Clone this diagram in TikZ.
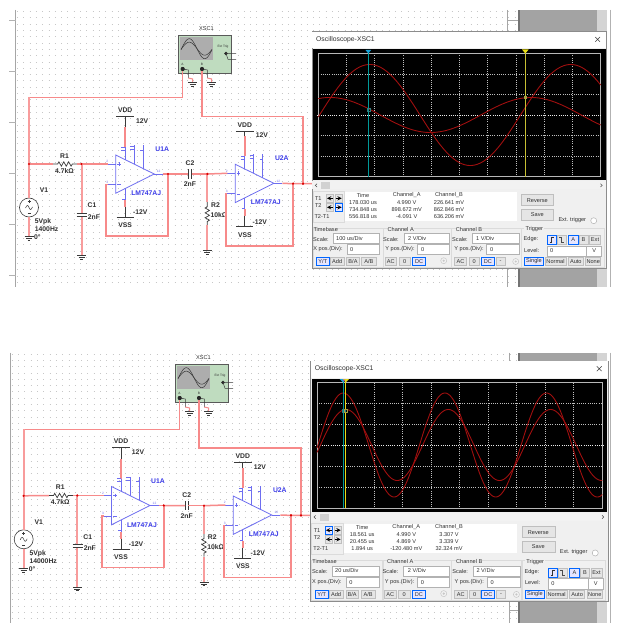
\documentclass[tikz,border=0pt]{standalone}
\usepackage{fontspec}
\setmainfont{Liberation Sans}
\definecolor{wirered}{HTML}{F78A8A}
\definecolor{opblue}{HTML}{6E6EF0}
\definecolor{labblue}{HTML}{3C3CE8}
\definecolor{compgray}{HTML}{3A3A3A}
\definecolor{txtgray}{HTML}{303030}
\definecolor{winbg}{HTML}{F0F0F0}
\definecolor{trace}{HTML}{A00F0F}
\newcounter{nn}
\tikzset{
 wire/.style={draw=wirered,line width=1.5pt},
 widewire/.style={draw=wirered!85!white,line width=2pt},
 comp/.style={draw=compgray,line width=.7pt},
 opline/.style={draw=opblue,line width=.8pt},
 lab/.style={font=\fontsize{6.8}{8}\selectfont\bfseries,text=txtgray,inner sep=0pt},
 ulab/.style={font=\fontsize{6.8}{8}\selectfont\bfseries,text=labblue,inner sep=0pt},
 tiny/.style={font=\fontsize{3.2}{4}\selectfont,text=txtgray,inner sep=0pt},
 tinyb/.style={font=\fontsize{3.2}{4}\selectfont,text=opblue,inner sep=0pt},
 junc/.style={circle,fill=red!85!black,inner sep=0pt,minimum size=2.4pt},
 ptx/.style={font=\fontsize{5.6}{6.5}\selectfont,text=txtgray,inner sep=0pt},
 btnoff/.style={draw=black!25,fill=black!10,line width=.5pt},
 btnon/.style={draw=blue!60!cyan,fill=blue!10,line width=.7pt},
 fieldbox/.style={draw=black!30,fill=white,line width=.5pt},
 grpline/.style={draw=black!14,line width=.6pt},
 griddot/.style={draw=black!25,line width=.7pt,dash pattern=on 1pt off 1.2pt},
 tracep/.style={draw=trace,line width=.9pt},
 dotrow/.style={draw=black!22,line width=.7pt,dash pattern=on .7pt off 5.6pt},
}
\newcommand\ptxt[4]{\stepcounter{nn}\node[ptx,anchor=#3] (pt\arabic{nn}) at (#1,#2) {#4};}
\newcommand\btn[6]{\stepcounter{nn}\draw[#5] (#1,#2) rectangle (#3,#4);
 \node[ptx] (pb\arabic{nn}) at ({(#1+#3)/2},{(#2+#4)/2}) {#6};}
\newcommand\fld[6]{\draw[fieldbox] (#1,#2) rectangle (#3,#4); \ptxt{#5}{{(#2+#4)/2}}{west}{#6}}
\newcommand\gnd[3]{\coordinate (#1) at (#2,#3);
 \begin{scope}[shift={(#2,#3)}]
  \draw[comp] (-4.5,0)--(4.5,0) (-3,1.7)--(3,1.7) (-1.3,3.4)--(1.3,3.4);
 \end{scope}}
\newcommand\opampU[4]{%
 \begin{scope}[shift={(#2)}]
  \coordinate (#1-pos) at (-8,9);
  \coordinate (#1-neg) at (-8,29.5);
  \coordinate (#1-out) at (47,19);
  \coordinate (#1-vdd) at (9.5,#4);
  \coordinate (#1-vss) at (9.5,62.5);
  \draw[wire] (9.5,-8)--(9.5,-28);
  \draw[wire] (9.5,45)--(9.5,52);
  \draw[opline] (0,0) -- (0,38.3) -- (38.5,19) -- cycle;
  \draw[opline] (-8,9)--(0,9) (-8,29.5)--(0,29.5) (38.5,19)--(47,19);
  \draw[opline,line width=.5pt] (1.5,9)--(5,9) (3.25,7.2)--(3.25,10.8) (1.5,29.5)--(5,29.5);
  \draw[opline] (9.5,4.7)--(9.5,-8) (5.5,-8)--(9.5,-8) (5.5,-5)--(9.5,-5);
  \draw[opline] (18.5,9.2)--(18.5,-10) (14.5,-9)--(18.5,-9) (14.5,-6)--(18.5,-6);
  \draw[opline] (27.5,13.7)--(27.5,-10) (24.5,-5)--(27.5,-5);
  \draw[opline] (9.5,33.5)--(9.5,45) (6.5,44)--(9.5,44);
  \draw[comp] (9.5,-28)--(#1-vdd);
  \draw[comp] (0.5,#4)--(18.5,#4);
  \draw[comp] (9.5,52)--(#1-vss);
  \draw[comp] (1,62.5)--(18,62.5);
  \node[tinyb] (#1-p2) at (-8.5,6.8) {2};
  \node[tinyb] (#1-p3) at (-8.5,27.3) {3};
  \node[tinyb] (#1-p12) at (43,16.6) {12};
  \node[lab] (#1-vddt) at (9.5,{#4-6.3}) {VDD};
  \node[lab] (#1-v12) at (26.5,{#4+4.4}) {12V};
  \node[lab] (#1-vsst) at (9.5,70.5) {VSS};
  \node[lab] (#1-vm) at (24.5,57.4) {-12V};
  \node[ulab] (#1-name) at (46.5,-5.7) {#3};
  \node[ulab] (#1-type) at (30.5,38.3) {LM747AJ};
 \end{scope}}
\newcommand\ckt[7]{%
 \begin{scope}[shift={(#2)}]
  \node[lab,font=\fontsize{5.6}{6}\selectfont] (#1-xsc) at (206.5,29) {XSC1};
  \draw[draw=black!65,line width=.8pt,fill=green!45!black!25!white] (178,35) rectangle (231,73);
  \fill[black!32] (180,37.3) rectangle (212.7,60);
  \draw[compgray,line width=.5pt] plot[domain=181:212,samples=50] (\x,{48.7-10*sin(deg(2*pi*(\x-181.5)/31))});
  \draw[compgray,line width=.5pt] plot[domain=181:212,samples=50] (\x,{48.7-6.5*sin(deg(2*pi*(\x-181.5)/31))});
  \node[tiny] (#1-exttxt) at (223,47) {Ext Trig};
  \node[tiny] (#1-at) at (182.5,64) {A};
  \node[tiny] (#1-bt) at (202,64) {B};
  \node[circle,fill=black!85,inner sep=0pt,minimum size=4pt] (#1-ta) at (182.7,69) {};
  \node[circle,fill=black!85,inner sep=0pt,minimum size=4pt] (#1-tb) at (202,69) {};
  \node[circle,fill=black!85,inner sep=0pt,minimum size=3.6pt] (#1-tx) at (226,53.5) {};
  \draw[comp,line width=.5pt] (#1-tx.center) -- (236,53.5) (#1-tx.center) -- (228,59.3) -- (236,59.3);
  \draw[comp,line width=.5pt] (#1-ta.center) -- (188.3,70) -- (188.3,78);
  \draw[wire,line width=1pt] (188.3,78) -- (192.7,79) -- (192.7,82);
  \gnd{#1-ga}{192.7}{82.5}
  \draw[comp,line width=.5pt] (#1-tb.center) -- (207.3,70) -- (207.3,78);
  \draw[wire,line width=1pt] (207.3,78) -- (211.7,79) -- (211.7,82);
  \gnd{#1-gb}{211.7}{82.5}
 \end{scope}
 \begin{scope}[shift={(#4)}]
  \node[circle,draw=compgray,line width=.6pt,fill=white,minimum size=19pt,inner sep=0pt] (#1-v1) at (29,207.5) {};
  \draw[comp,line width=.5pt] (27.5,201.5)--(30.5,201.5) (29,200)--(29,203) (27.5,213.5)--(30.5,213.5);
  \draw[comp,line width=.5pt] (25.5,208) .. controls (27,204.5) and (28,205) .. (29,207.5) .. controls (30,210) and (31,210.5) .. (32.5,207);
  \node[lab] (#1-v1t) at (44,190.5) {V1};
  \node[lab,anchor=west] (#1-v1a) at (34.7,222) {5Vpk};
  \node[lab,anchor=west] (#1-v1f) at (34.7,229.5) {#7};
  \node[lab,anchor=west] (#1-v1p) at (34,237) {0°};
  \node[junc] (#1-j0) at (29,164) {};
  \coordinate (#1-ca) at (29,97.5);
  \coordinate (#1-gvw) at (29,236);
 \end{scope}
 \draw[widewire] (#1-ca) -- (#1-v1.north);
 \draw[widewire] (#1-v1.south) -- (#1-gvw);
 \begin{scope}[shift={(#4)}]
  \gnd{#1-gv}{29}{236.7}
 \end{scope}
 \begin{scope}[shift={(#3)}]
  \coordinate (#1-r1a) at (53,164);
  \coordinate (#1-r1b) at (77,164);
  \draw[comp] (#1-r1a) -- (57.7,164) -- ++(1.2,-2.2) -- ++(2.44,4.4) -- ++(2.44,-4.4) -- ++(2.44,4.4) -- ++(2.44,-4.4) -- ++(2.44,4.4) -- ++(1.2,-2.2) -- (#1-r1b);
  \node[lab] (#1-r1t) at (64.5,156) {R1};
  \node[lab] (#1-r1v) at (64.5,171) {4.7kΩ};
  \node[junc] (#1-j1) at (81.5,164) {};
  \coordinate (#1-c1a) at (81.5,213.3);
  \coordinate (#1-c1b) at (81.5,216.3);
  \node[lab] (#1-c1t) at (92,205.3) {C1};
  \node[lab] (#1-c1v) at (94,217) {2nF};
  \opampU{#1-u1}{115.7,155}{U1A}{-38.7}
  \node[junc] (#1-j2) at (168,174) {};
  \coordinate (#1-c2) at (106,236);
  \coordinate (#1-g1w) at (81.5,255);
 \end{scope}
 \draw[wire] (#1-j0.center) -- (#1-r1a);
 \draw[wire] (#1-r1b) -- (#1-j1.center) -- (#1-u1-pos);
 \draw[widewire] (#1-j1.center) -- (#1-c1a);
 \draw[widewire] (#1-c1b) -- (#1-g1w);
 \begin{scope}[shift={(#3)}]
  \draw[comp,line width=1pt] (76.7,213.3)--(86.7,213.3) (76.7,216.3)--(86.7,216.3);
  \gnd{#1-g1}{81.5}{255.7}
 \end{scope}
 \draw[wire] (#1-u1-out) -- (#1-j2.center);
 \draw[wire] (#1-j2.center) |- (#1-c2) |- (#1-u1-neg);
 \begin{scope}[shift={(#6)}]
  \coordinate (#1-c2a) at (188.3,174);
  \coordinate (#1-c2b) at (191.7,174);
  \draw[comp,line width=1pt] (188.3,169.3)--(188.3,178.7) (191.7,169.3)--(191.7,178.7);
  \node[lab] (#1-c2t) at (190,163) {C2};
  \node[lab] (#1-c2v) at (190,184.5) {2nF};
  \node[junc] (#1-j3) at (207.3,174) {};
  \coordinate (#1-r2a) at (207.3,202);
  \coordinate (#1-r2b) at (207.3,225);
  \coordinate (#1-g2w) at (207.3,250);
  \draw[comp] (#1-r2a) -- (207.3,206.8) -- ++(-2.2,1.2) -- ++(4.4,2.44) -- ++(-4.4,2.44) -- ++(4.4,2.44) -- ++(-4.4,2.44) -- ++(4.4,2.44) -- ++(-2.2,1.2) -- (#1-r2b);
  \node[lab] (#1-r2t) at (215.5,205.5) {R2};
  \node[lab] (#1-r2v) at (219,215) {10kΩ};
 \end{scope}
 \draw[wire] (#1-j2.center) -- (#1-c2a);
 \draw[wire] (#1-c2b) -- (#1-j3.center);
 \draw[widewire] (#1-j3.center) -- (#1-r2a);
 \draw[widewire] (#1-r2b) -- (#1-g2w);
 \begin{scope}[shift={(#6)}]
  \gnd{#1-g2}{207.3}{250.5}
 \end{scope}
 \begin{scope}[shift={(#5)}]
  \opampU{#1-u2}{235.3,164.3}{U2A}{-33.3}
  \node[junc] (#1-j4) at (293,183.7) {};
  \node[junc] (#1-j5) at (303,183.7) {};
  \coordinate (#1-c4) at (226,246);
  \coordinate (#1-end) at (314,183.7);
  \coordinate (#1-cb) at (303,116.5);
 \end{scope}
 \draw[wire] (#1-j3.center) -- (#1-u2-pos);
 \draw[wire] (#1-u2-out) -- (#1-j4.center) -- (#1-j5.center) -- (#1-end);
 \draw[wire] (#1-j4.center) |- (#1-c4) |- (#1-u2-neg);
 \draw[wire] (#1-ta) |- (#1-ca);
 \draw[widewire] (#1-ca) -- (#1-j0.center);
 \draw[wire] (#1-tb) |- (#1-cb) -- (#1-j5.center);
 \node[junc] at (#1-j0) {};
 \node[junc] at (#1-j1) {};
 \node[junc] at (#1-j2) {};
 \node[junc] at (#1-j3) {};
 \node[junc] at (#1-j4) {};
 \node[junc] at (#1-j5) {};
 \node[circle,fill=black!85,inner sep=0pt,minimum size=4pt] at (#1-ta) {};
 \node[circle,fill=black!85,inner sep=0pt,minimum size=4pt] at (#1-tb) {};
}
\newcommand\backdrop[4]{%
 \pgfmathsetmacro{\ystart}{#2+1.5}
 \pgfmathsetmacro{\ynext}{#2+7.8}
 \pgfmathsetmacro{\xstart}{#1+1.5}
 \foreach \yy in {\ystart,\ynext,...,#3}{
   \draw[dotrow] (\xstart,\yy) -- (518,\yy);}
 \draw[draw=black!35,line width=.7pt] (#1,#2) -- (#1,#3);
 \draw[draw=black!35,line width=.6pt] (#4,#2) -- (#4,#3);
 \fill[black!36] (518,#2) rectangle (597,#3);
 \fill[black!55] (518,#2) rectangle (519.5,#3);
 \fill[black!17] (597,#2) rectangle (607,#3);
 \draw[draw=black!30,line width=.6pt] (610,#2) -- (610,#3);
}
\newcommand\trow[4]{\ptxt{363}{#1}{center}{#2}\ptxt{406.7}{#1}{center}{#3}\ptxt{449}{#1}{center}{#4}}
\newcommand\oscwin[7]{%
 \begin{scope}[#1]
  \draw[draw=black!45,line width=.6pt,fill=winbg] (312,31.7) rectangle (606.7,268.3);
  \fill[white] (312.4,32.1) rectangle (606.3,48);
  \ptxt{316}{39.7}{west}{\fontsize{6.8}{8}\selectfont Oscilloscope-XSC1}
  \draw[draw=black!75,line width=.6pt] (595.3,37)--(600,41.7) (595.3,41.7)--(600,37);
  \fill[black] (313,49) rectangle (605.7,180);
  \draw[draw=black!28,line width=.9pt] (318.3,53.3) rectangle (600.7,176.7);
  \foreach \i in {1,...,9}{\draw[griddot] ({318.3+28.24*\i},53.3) -- ({318.3+28.24*\i},176.7);}
  \foreach \j in {1,2,4,5}{\draw[griddot] (318.3,{53.3+20.57*\j}) -- (600.7,{53.3+20.57*\j});}
  \draw[griddot,draw=black!8,line width=.9pt] (316.5,115) -- (602.5,115);
  \fill[black!5] (312.4,181) rectangle (606.3,189.5);
  \fill[black!18] (321,182) rectangle (330,189);
  \draw[draw=black!70,line width=.5pt] (317,183.7)--(315.3,185.3)--(317,187) (600.5,183.7)--(602.2,185.3)--(600.5,187);
  \draw[grpline] (313,191) rectangle (344,222);
  \ptxt{318.3}{198.3}{center}{T1}
  \ptxt{318.3}{206}{center}{T2}
  \ptxt{322}{216.3}{center}{T2-T1}
  \btn{326.3}{194.7}{333.7}{202}{#2}{}
  \btn{335}{194.7}{342.3}{202}{btnoff}{}
  \btn{326.3}{203.7}{333.7}{211}{btnoff}{}
  \btn{335}{203.7}{342.3}{211}{#3}{}
  \draw[-stealth,line width=.9pt] (333,198.3)--(327,198.3);
  \draw[-stealth,line width=.9pt] (335.7,198.3)--(341.7,198.3);
  \draw[-stealth,line width=.9pt] (333,207.3)--(327,207.3);
  \draw[-stealth,line width=.9pt] (335.7,207.3)--(341.7,207.3);
  \draw[fill=white,draw=none] (345,191.7) rectangle (516.7,221);
  \ptxt{363}{195.3}{center}{Time}
  \ptxt{406.7}{195.3}{center}{Channel\_A}
  \ptxt{449}{195.3}{center}{Channel\_B}
  #4
  \btn{521}{194.7}{553.7}{205.7}{btnoff}{Reverse}
  \btn{521}{209.3}{553.7}{220.3}{btnoff}{Save}
  \ptxt{572.3}{220}{center}{Ext. trigger}
  \draw[draw=black!30,fill=white,line width=.5pt] (593.7,220.7) circle (3);
  \draw[grpline] (313,228) rectangle (383,267);
  \draw[grpline] (383.5,228) rectangle (451,267);
  \draw[grpline] (451.5,228) rectangle (521,267);
  \draw[grpline] (521.5,228) rectangle (604,267);
  \fill[winbg] (316,226) rectangle (336,231);
  \fill[winbg] (388,226) rectangle (414,231);
  \fill[winbg] (456,226) rectangle (482,231);
  \fill[winbg] (524,226) rectangle (544,231);
  \ptxt{325.7}{229.3}{center}{Timebase}
  \ptxt{400.7}{229.3}{center}{Channel A}
  \ptxt{469}{229.3}{center}{Channel B}
  \ptxt{534.3}{229.3}{center}{Trigger}
  \ptxt{321}{239}{center}{Scale:}
  \ptxt{328}{249.5}{center}{X pos.(Div):}
  \fld{333.7}{233.3}{379.7}{243.3}{336}{#5}
  \fld{347.3}{244.5}{379.7}{254.5}{350}{0}
  \btn{316.7}{257.3}{329}{265.7}{btnon}{Y/T}
  \btn{330.3}{257.3}{344}{265.7}{btnoff}{Add}
  \btn{346.7}{257.3}{359.3}{265.7}{btnoff}{B/A}
  \btn{361.7}{257.3}{376}{265.7}{btnoff}{A/B}
  \ptxt{391}{239}{center}{Scale:}
  \ptxt{400}{249.5}{center}{Y pos.(Div):}
  \fld{404}{233.3}{449.3}{243.3}{408}{#6}
  \fld{417.7}{244.5}{449.3}{254.5}{421}{0}
  \btn{385}{257.3}{396.7}{265.7}{btnoff}{AC}
  \btn{399}{257.3}{410.3}{265.7}{btnoff}{0}
  \btn{412.7}{257.3}{425.7}{265.7}{btnon}{DC}
  \draw[draw=black!22,fill=black!5,line width=.5pt] (443.7,260.7) circle (3);
  \fill[black!22] (443.7,260.7) circle (1.2);
  \ptxt{460}{239}{center}{Scale:}
  \ptxt{469}{249.5}{center}{Y pos.(Div):}
  \fld{472.7}{233.3}{519}{243.3}{476}{#7}
  \fld{486.7}{244.5}{519}{254.5}{490}{0}
  \btn{454.3}{257.3}{466.7}{265.7}{btnoff}{AC}
  \btn{469}{257.3}{479.5}{265.7}{btnoff}{0}
  \btn{481.3}{257.3}{494.3}{265.7}{btnon}{DC}
  \btn{496}{257.3}{505}{265.7}{btnoff}{-}
  \draw[draw=black!22,fill=black!5,line width=.5pt] (515.7,261.5) circle (3);
  \fill[black!22] (515.7,261.5) circle (1.2);
  \ptxt{531}{239.5}{center}{Edge:}
  \ptxt{531.7}{250}{center}{Level:}
  \btn{547.3}{235.5}{556}{244.5}{btnon}{}
  \btn{557}{235.5}{566}{244.5}{btnoff}{}
  \draw[draw=black!80,line width=.5pt] (549.5,242.5)--(551.5,242.5)--(551.5,237.5)--(553.8,237.5);
  \draw[draw=black!70,line width=.5pt] (559,237.5)--(561.5,237.5)--(561.5,242.5)--(564,242.5);
  \btn{568.3}{235.5}{578}{244.5}{btnon}{A}
  \btn{579}{235.5}{588}{244.5}{btnoff}{B}
  \btn{589.3}{235.5}{600.7}{244.5}{btnoff}{Ext}
  \fld{547.3}{246}{586.7}{256}{550}{0}
  \btn{586.7}{246}{601.7}{256}{fieldbox}{V}
  \btn{524.3}{257.3}{543.7}{265.7}{btnon}{Single}
  \btn{545}{257.3}{566}{265.7}{btnoff}{Normal}
  \btn{568.3}{257.3}{583.3}{265.7}{btnoff}{Auto}
  \btn{585.7}{257.3}{600.7}{265.7}{btnoff}{None}
 \end{scope}
}
\begin{document}
\begin{tikzpicture}[x=1pt,y=-1pt]
\useasboundingbox (0,0) rectangle (625,644);
\fill[white] (0,0) rectangle (625,644);
\backdrop{15.5}{10}{286.7}{507.5}
\draw[draw=black!35,line width=.6pt] (507.5,20) -- (518,20);
\foreach \t in {20,71,122,173.5,224.5,275.7}{\draw[draw=black!30,line width=.7pt] (9,\t) -- (15.5,\t);}
\backdrop{10.3}{352.5}{622.5}{509}
\draw[draw=black!35,line width=.6pt] (509,610) -- (518,610);
\ckt{t}{0,0}{0,0}{0,0}{0,0}{0,0}{1400Hz}
\ckt{b}{-3,329}{-4.2,331.5}{-5.3,331.8}{-2,331.7}{-3.3,331.7}{14000Hz}
\oscwin{}{btnoff}{btnon}{%
 \trow{202.3}{178.030 us}{4.990 V}{226.641 mV}
 \trow{209.3}{734.848 us}{898.672 mV}{862.846 mV}
 \trow{216.3}{556.818 us}{-4.091 V}{636.206 mV}}{100 us/Div}{2 V/Div}{1 V/Div}
\draw[tracep] plot[domain=318.3:600.7,samples=220] (\x,{115-50.5*sin(deg(2*pi*(\x-319.5)/201))});
\draw[tracep] plot[domain=318.3:600.7,samples=220] (\x,{115-17.5*cos(deg(2*pi*(\x-330)/201))});
\draw[draw=teal!80!cyan,line width=1pt] (368.3,52) -- (368.3,176.7);
\fill[cyan!80!teal] (365.5,50) -- (371.1,50) -- (368.3,53.5) -- cycle;
\draw[draw=yellow!75!black,line width=1pt] (525.3,52) -- (525.3,176.7);
\fill[yellow!90!black] (522,49.5) -- (528.6,49.5) -- (525.3,53.5) -- cycle;
\draw[draw=teal!60!gray,line width=.5pt] (366.8,108.7) rectangle (369.8,111.7);
\fill[yellow!60!black] (523.8,95.7) rectangle (526.8,98.7);
\oscwin{shift={(310.7,516.7)},xscale=1.01,yscale=1.016,shift={(-312,-185)}}{btnon}{btnoff}{%
 \trow{202.3}{18.561 us}{4.990 V}{3.307 V}
 \trow{209.3}{20.455 us}{4.869 V}{3.339 V}
 \trow{216.3}{1.894 us}{-120.480 mV}{32.324 mV}}{20 us/Div}{2 V/Div}{2 V/Div}
\draw[tracep] plot[domain=317:602.3,samples=300] (\x,{445-52*cos(deg(2*pi*(\x-343.3)/101.6))});
\draw[tracep] plot[domain=317:602.3,samples=300] (\x,{445-35.5*cos(deg(2*pi*(\x-346)/102.3))});
\draw[draw=teal!80!cyan,line width=1pt] (343.3,381) -- (343.3,507.7);
\draw[draw=yellow!90!black,line width=1pt] (345.3,381) -- (345.3,507.7);
\fill[cyan!80!teal] (339.5,379) -- (345,379) -- (343.3,382.5) -- cycle;
\fill[yellow!90!black] (343,379) -- (349,379) -- (345.5,382.5) -- cycle;
\fill[violet!70!white] (342.5,379.5) -- (345.5,379.5) -- (344,381.5) -- cycle;
\draw[draw=teal!60!gray,line width=.5pt] (341.8,409.5) rectangle (344.8,412.5);
\draw[draw=yellow!60!black,line width=.5pt] (343.8,409.5) rectangle (346.8,412.5);
\end{tikzpicture}
\end{document}
